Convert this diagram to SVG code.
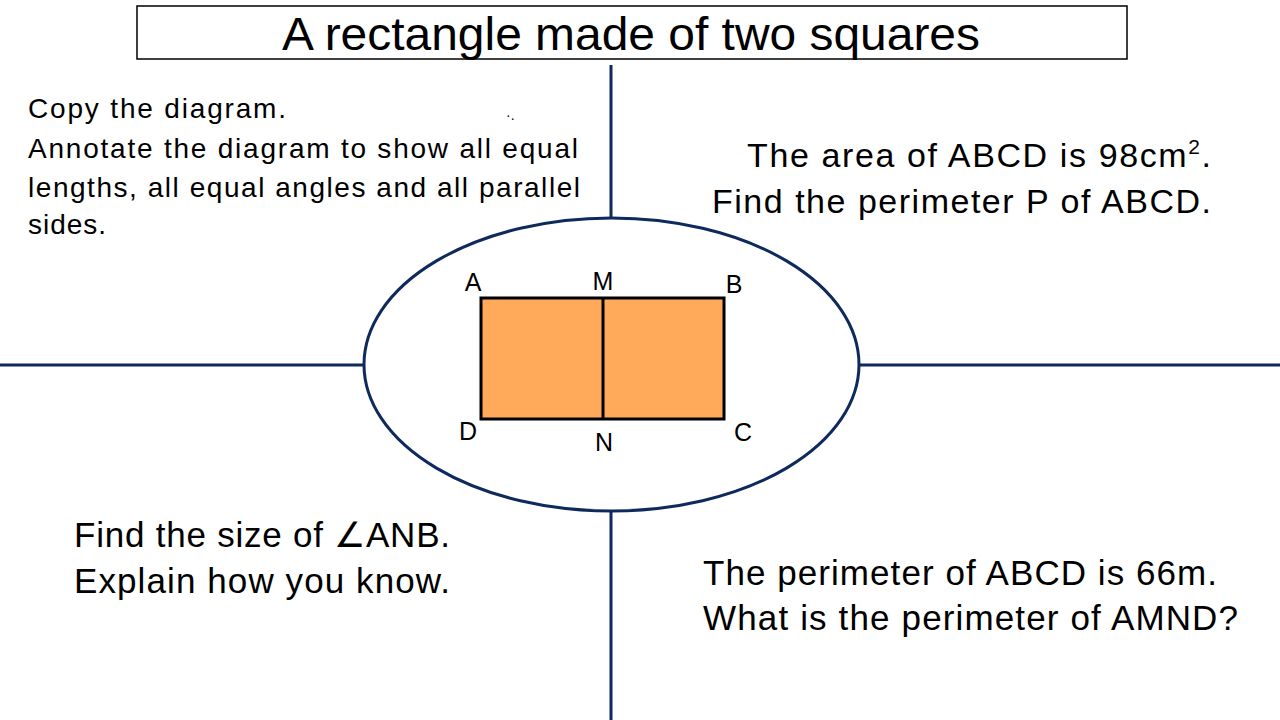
<svg xmlns="http://www.w3.org/2000/svg" width="1280" height="720" viewBox="0 0 1280 720">
<style>
text { font-family: "Liberation Sans", Arial, sans-serif; fill: #000; }
.q { font-size: 34px; }
.b { font-size: 35px; }
.s { font-size: 28px; }
.lbl { font-size: 25px; text-anchor: middle; }
.ax { stroke: #0E2A5C; stroke-width: 3; fill: none; }
</style>
<rect width="1280" height="720" fill="#fff"/>
<g id="title">
<rect x="137" y="6" width="990" height="53" fill="#fff" stroke="#000" stroke-width="1.5"/>
<text x="282" y="50" font-size="47" textLength="698" lengthAdjust="spacingAndGlyphs">A rectangle made of two squares</text>
</g>
<g id="connectors">
<line class="ax" x1="611" y1="65" x2="611" y2="218"/>
<line class="ax" x1="611" y1="511" x2="611" y2="720"/>
<line class="ax" x1="0" y1="365" x2="364" y2="365"/>
<line class="ax" x1="859" y1="365" x2="1280" y2="365"/>
</g>
<g id="ellipse">
<ellipse class="ax" cx="611.5" cy="364.5" rx="247.5" ry="146.5"/>
</g>
<g id="rectangle">
<rect x="481" y="298" width="243" height="121" fill="#FFAA5B" stroke="#000" stroke-width="3"/>
<line x1="603" y1="298" x2="603" y2="419" stroke="#000" stroke-width="3"/>
<text class="lbl" x="473" y="291">A</text>
<text class="lbl" x="603" y="290">M</text>
<text class="lbl" x="734" y="293">B</text>
<text class="lbl" x="468" y="440">D</text>
<text class="lbl" x="604" y="451">N</text>
<text class="lbl" x="743" y="441">C</text>
</g>
<g id="task-tl">
<text class="s" x="28" y="118" textLength="258" lengthAdjust="spacing">Copy the diagram.</text>
<text class="s" x="28" y="158" textLength="550" lengthAdjust="spacing">Annotate the diagram to show all equal</text>
<text class="s" x="28" y="197" textLength="552" lengthAdjust="spacing">lengths, all equal angles and all parallel</text>
<text class="s" x="28" y="234" textLength="78" lengthAdjust="spacing">sides.</text>
<text x="506" y="120" font-size="14">·.</text>
</g>
<g id="task-tr">
<text class="q" x="747" y="167" textLength="464" lengthAdjust="spacing">The area of ABCD is 98cm<tspan font-size="21" dy="-13">2</tspan><tspan dy="13">.</tspan></text>
<text class="q" x="712" y="213" textLength="499" lengthAdjust="spacing">Find the perimeter P of ABCD.</text>
</g>
<g id="task-bl">
<text class="b" x="74" y="547" textLength="376" lengthAdjust="spacing">Find the size of ∠ANB.</text>
<text class="b" x="74" y="593" textLength="376" lengthAdjust="spacing">Explain how you know.</text>
</g>
<g id="task-br">
<text class="b" x="703" y="585" textLength="514" lengthAdjust="spacing">The perimeter of ABCD is 66m.</text>
<text class="b" x="703" y="630" textLength="535" lengthAdjust="spacing">What is the perimeter of AMND?</text>
</g>
</svg>
